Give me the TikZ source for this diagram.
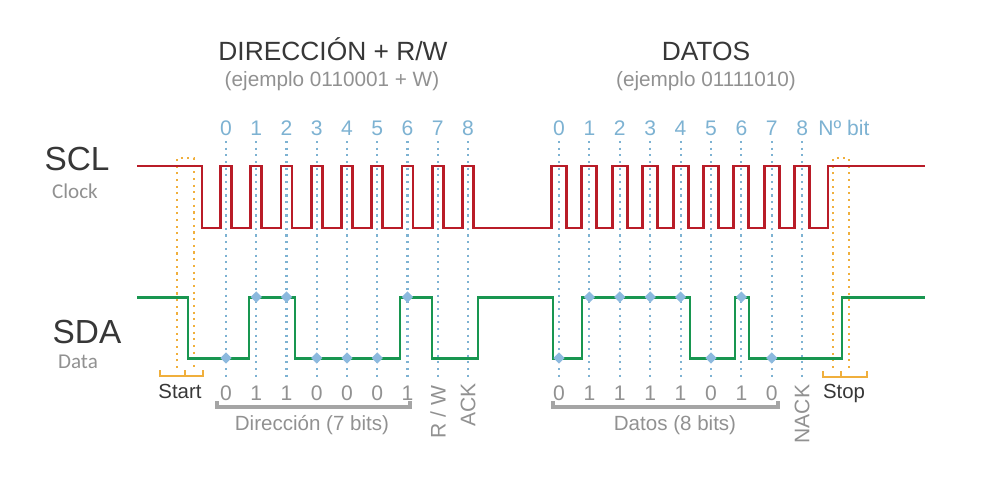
\documentclass[tikz,border=0pt]{standalone}
\usepackage{fontspec}
\setmainfont{Liberation Sans}
\newfontfamily\notefont{Carlito}
\usetikzlibrary{shapes.geometric}

\definecolor{sclred}{RGB}{185,28,40}
\definecolor{sdagreen}{RGB}{24,150,80}
\definecolor{bitblue}{RGB}{125,178,210}
\definecolor{dotblue}{RGB}{140,185,222}
\definecolor{markorange}{RGB}{240,175,60}
\definecolor{textgray}{RGB}{145,145,145}
\definecolor{bracegray}{RGB}{165,165,165}
\definecolor{darktext}{RGB}{55,55,55}

\tikzset{
  scl/.style={line width=1.7pt, color=sclred},
  sda/.style={line width=1.7pt, color=sdagreen},
  bitline/.style={line width=1.2pt, color=bitblue, dash pattern=on 1.2pt off 2.6pt},
  markline/.style={line width=1.2pt, color=markorange, dash pattern=on 1.2pt off 2.6pt},
  markbrace/.style={line width=1.1pt, color=markorange},
  fieldbrace/.style={line width=2pt, color=bracegray},
  bitdot/.style={diamond, fill=dotblue, inner sep=0pt, minimum size=0.23cm},
  headtext/.style={font=\fontsize{15}{18}\selectfont, text=darktext, anchor=base},
  subtext/.style={font=\fontsize{11.8}{14}\selectfont, text=textgray, anchor=base},
  bitnum/.style={font=\fontsize{12}{14}\selectfont, text=bitblue, anchor=base},
  bitval/.style={font=\fontsize{12}{14}\selectfont, text=textgray, anchor=base},
  fieldtext/.style={font=\fontsize{11.7}{14}\selectfont, text=textgray, anchor=base},
  sidetext/.style={font=\fontsize{12}{14}\selectfont, text=textgray, rotate=90},
  endtext/.style={font=\fontsize{11.6}{14}\selectfont, text=darktext, anchor=base},
  signame/.style={font=\fontsize{19}{22}\selectfont, text=darktext, anchor=base},
  signote/.style={font=\notefont\fontsize{12}{14}\selectfont, text=textgray, anchor=base}
}

\begin{document}
\begin{tikzpicture}[x=0.02cm, y=-0.02cm]
  %%%%% START %%%%%
  \useasboundingbox (0,0) rectangle (992,498);

  % titles
  \node[headtext] (addrhead) at (333,60) {DIRECCIÓN + R/W};
  \node[subtext] (addrsub) at (332,86) {(ejemplo 0110001 + W)};
  \node[headtext] (datahead) at (706,60) {DATOS};
  \node[subtext] (datasub) at (706,86) {(ejemplo 01111010)};

  % signal names
  \node[signame] (sclname) at (77,170) {SCL};
  \node[signote] (sclnote) at (75,198) {Clock};
  \node[signame] (sdaname) at (87,343) {SDA};
  \node[signote] (sdanote) at (78,368) {Data};

  % bit lines
  \foreach \i in {0,...,8} {
    \draw[bitline] ({226+30.25*\i},141) -- ({226+30.25*\i},377);
    \node[bitnum] (lnum\i) at ({226+30.25*\i},135) {\i};
    \draw[bitline] ({559+30.4*\i},141) -- ({559+30.4*\i},377);
    \node[bitnum] (rnum\i) at ({559+30.4*\i},135) {\i};
  }
  \node[bitnum] (nbit) at (844,135) {Nº bit};

  % start and stop marks
  \draw[markline] (177,368) -- (177,158) -- (194,158) -- (194,368);
  \draw[markbrace] (160,370) -- (160,376) -- (203,376) -- (203,370);
  \draw[markbrace] (185,376) -- (185,370);
  \draw[markline] (833,368) -- (833,158) -- (849,158) -- (849,368);
  \draw[markbrace] (823,371) -- (823,377) -- (867,377) -- (867,371);
  \draw[markbrace] (841,377) -- (841,371);
  \node[endtext] (start) at (180,398) {Start};
  \node[endtext] (stop) at (844,398) {Stop};

  % SCL
  \draw[scl] (137,166) -- (202,166) -- (202,228)
    \foreach \i in {0,...,8} { -- ({220.5+30.25*\i},228) -- ({220.5+30.25*\i},166)
      -- ({231.5+30.25*\i},166) -- ({231.5+30.25*\i},228) }
    \foreach \i in {0,...,8} { -- ({551.5+30.4*\i},228) -- ({551.5+30.4*\i},166)
      -- ({566.5+30.4*\i},166) -- ({566.5+30.4*\i},228) }
    -- (828,228) -- (828,166) -- (925,166);

  % SDA
  \draw[sda] (137,297) -- (188,297) -- (188,358) -- (249,358) -- (249,297)
    -- (295,297) -- (295,358) -- (400,358) -- (400,297) -- (432,297)
    -- (432,358) -- (478,358) -- (478,297) -- (553,297) -- (553,358)
    -- (582,358) -- (582,297) -- (690,297) -- (690,358) -- (735,358)
    -- (735,297) -- (749,297) -- (749,358) -- (842,358) -- (842,297)
    -- (925,297);

  % sampled bits
  \foreach \i/\y/\b in {0/358/0, 1/297/1, 2/297/1, 3/358/0, 4/358/0, 5/358/0, 6/297/1} {
    \node[bitdot] (ldot\i) at ({226+30.25*\i},\y) {};
    \node[bitval] (lval\i) at ({226+30.25*\i},400) {\b};
  }
  \foreach \i/\y/\b in {0/358/0, 1/297/1, 2/297/1, 3/297/1, 4/297/1, 5/358/0, 6/297/1, 7/358/0} {
    \node[bitdot] (rdot\i) at ({559+30.4*\i},\y) {};
    \node[bitval] (rval\i) at ({559+30.4*\i},400) {\b};
  }

  % fields
  \draw[fieldbrace] (217,401) -- (217,407) -- (410,407) -- (410,401);
  \node[fieldtext] (addrfield) at (312,430) {Dirección (7 bits)};
  \draw[fieldbrace] (553,401) -- (553,407) -- (778,407) -- (778,401);
  \node[fieldtext] (datafield) at (675,430) {Datos (8 bits)};
  \node[sidetext] (rw) at (438,412) {R / W};
  \node[sidetext] (ack) at (468,405) {ACK};
  \node[sidetext] (nack) at (802,414) {NACK};

  %%%%% END %%%%%
\end{tikzpicture}
\end{document}
